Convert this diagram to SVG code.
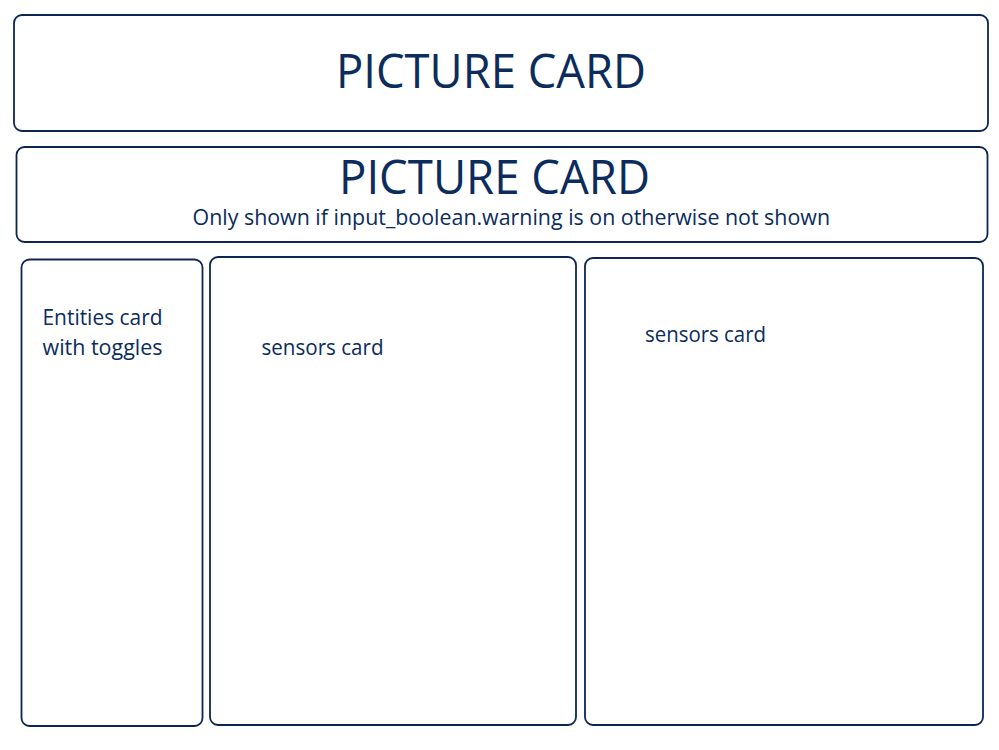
<svg xmlns="http://www.w3.org/2000/svg" width="999" height="750" viewBox="0 0 999 750">
<style>
.card{fill:#ffffff;stroke:#0d2650;stroke-width:1.8}
.t{font-family:"Open Sans","Noto Sans","Liberation Sans",sans-serif;fill:#0b2c5c}
.big{font-size:47px}
.sm{font-size:21px}
</style>
<rect width="999" height="750" fill="#ffffff"/>
<g id="picture-card-1">
<rect class="card" x="14" y="15" width="974" height="116" rx="8"/>
<text class="t big" x="336" y="88" textLength="310" lengthAdjust="spacingAndGlyphs">PICTURE CARD</text>
</g>
<g id="picture-card-2">
<rect class="card" x="16.5" y="147" width="971" height="95" rx="8"/>
<text class="t big" x="339" y="193.5" textLength="311" lengthAdjust="spacingAndGlyphs">PICTURE CARD</text>
<text class="t sm" x="192.5" y="225" textLength="637.5" lengthAdjust="spacingAndGlyphs">Only shown if input_boolean.warning is on otherwise not shown</text>
</g>
<g id="entities-card">
<rect class="card" x="21.5" y="259.5" width="181" height="466.5" rx="8"/>
<text class="t sm" x="42.5" y="325" textLength="120" lengthAdjust="spacingAndGlyphs">Entities card</text>
<text class="t sm" x="42.5" y="355" textLength="120" lengthAdjust="spacingAndGlyphs">with toggles</text>
</g>
<g id="sensors-card-1">
<rect class="card" x="210" y="257" width="366" height="468" rx="8"/>
<text class="t sm" x="261.5" y="354.5" textLength="122" lengthAdjust="spacingAndGlyphs">sensors card</text>
</g>
<g id="sensors-card-2">
<rect class="card" x="585" y="258" width="398" height="467" rx="8"/>
<text class="t sm" x="645" y="342" textLength="121" lengthAdjust="spacingAndGlyphs">sensors card</text>
</g>
<g id="connectors"/>
</svg>
